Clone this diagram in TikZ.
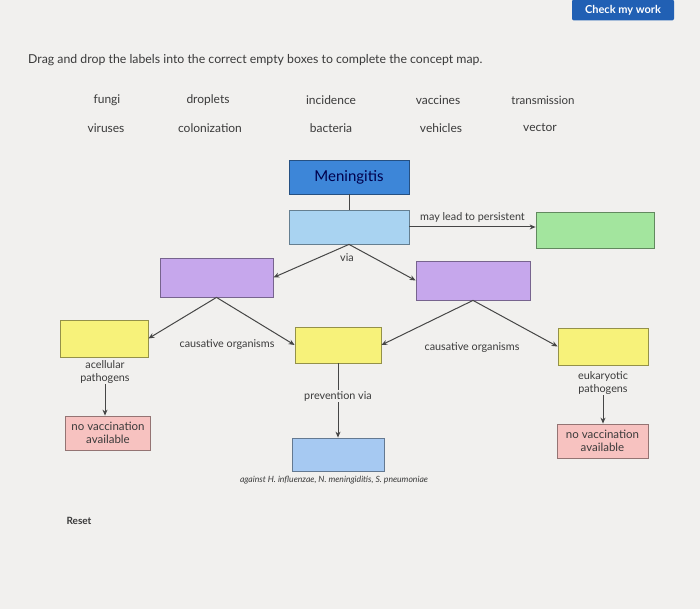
\documentclass[tikz,border=0pt]{standalone}
\usepackage{fontspec}
\setmainfont{Lato}
\usetikzlibrary{arrows.meta}
\definecolor{bg}{HTML}{F1F0EE}
\definecolor{btn}{HTML}{2160B4}
\definecolor{darkblue}{HTML}{3D86D8}
\definecolor{lightblue}{HTML}{A9D3F1}
\definecolor{paleblue}{HTML}{A6C9F2}
\definecolor{lgreen}{HTML}{A3E59E}
\definecolor{lpurple}{HTML}{C6A7EC}
\definecolor{lyellow}{HTML}{F7F27A}
\definecolor{lpink}{HTML}{F7C2C0}
\definecolor{txt}{HTML}{3A3A3A}
\definecolor{edge}{HTML}{464646}
\tikzset{
  cbox/.style={draw=#1!60!black, line width=0.8pt, inner sep=0pt},
  word/.style={text=txt, font=\fontsize{12}{14}\selectfont, inner sep=1pt},
  small/.style={text=txt, font=\fontsize{10.8}{12.5}\selectfont, inner sep=1pt, align=center},
  conn/.style={draw=edge, line width=1pt},
  arr/.style={conn, -{Stealth[length=6pt,width=5pt]}},
}
\begin{document}
\begin{tikzpicture}[x=1pt,y=-1pt]
\fill[bg] (0,0) rectangle (700,609);
\useasboundingbox (0,0) rectangle (700,609);
% button
\node[fill=btn, rounded corners=2pt, minimum width=102pt, minimum height=21pt, inner sep=0pt,
      text=white, font=\fontsize{11}{13}\selectfont\bfseries] (check) at (623,10) {Check my work};
% instruction
\node[anchor=west, text=txt, font=\fontsize{12.3}{14}\selectfont, inner sep=0pt] (instr) at (28,60)
  {Drag and drop the labels into the correct empty boxes to complete the concept map.};
% word bank
\node[word] (w1) at (107,100) {fungi};
\node[word] (w2) at (208,100) {droplets};
\node[word] (w3) at (331,100) {incidence};
\node[word] (w4) at (438,100) {vaccines};
\node[word, font=\fontsize{11.5}{13}\selectfont] (w5) at (543,100) {transmission};
\node[word] (w6) at (106,128) {viruses};
\node[word] (w7) at (210,128) {colonization};
\node[word] (w8) at (331,128) {bacteria};
\node[word] (w9) at (441,128) {vehicles};
\node[word] (w10) at (540,128) {vector};
% boxes
\node[cbox=darkblue, fill=darkblue, minimum width=120pt, minimum height=34pt,
      text=black!70!blue, font=\fontsize{15}{17}\selectfont] (men) at (349,177) {Meningitis};
\node[cbox=lightblue, fill=lightblue, minimum width=120pt, minimum height=34pt] (lb) at (349,227) {};
\node[cbox=lgreen, fill=lgreen, minimum width=118pt, minimum height=36pt] (grn) at (595,230) {};
\node[cbox=lpurple, fill=lpurple, minimum width=113pt, minimum height=39pt] (pl) at (216.5,277.5) {};
\node[cbox=lpurple, fill=lpurple, minimum width=114pt, minimum height=39pt] (pr) at (473,280.5) {};
\node[cbox=lyellow, fill=lyellow, minimum width=88pt, minimum height=37pt] (yl) at (104,338.5) {};
\node[cbox=lyellow, fill=lyellow, minimum width=86pt, minimum height=36pt] (ym) at (338,345) {};
\node[cbox=lyellow, fill=lyellow, minimum width=90pt, minimum height=37pt] (yr) at (603,346.5) {};
\node[cbox=paleblue, fill=paleblue, minimum width=92pt, minimum height=33pt] (bb) at (338,454.5) {};
\node[cbox=lpink, fill=lpink, minimum width=85pt, minimum height=34pt, small, text=txt,
      font=\fontsize{11.5}{13}\selectfont] (nvl) at (108,433) {no vaccination\\available};
\node[cbox=lpink, fill=lpink, minimum width=91pt, minimum height=34pt, small, text=txt,
      font=\fontsize{11.5}{13}\selectfont] (nvr) at (602.5,441) {no vaccination\\available};
% labels
\node[small, align=center] (acl) at (105,372) {acellular\\pathogens};
\node[small, align=center] (euk) at (603,383) {eukaryotic\\pathogens};
\node[small] (prev) at (338,396) {prevention via};
\node[small] (via) at (347,258) {via};
\node[small] (co1) at (227,345) {causative organisms};
\node[small] (co2) at (472,348) {causative organisms};
\node[text=txt, font=\fontsize{8.6}{10}\selectfont\itshape, inner sep=0pt] (against) at (334,480)
  {against H. influenzae, N. meningiditis, S. pneumoniae};
\node[text=txt, font=\fontsize{10}{12}\selectfont\bfseries, inner sep=0pt] (reset) at (79,521) {Reset};
% connectors
\draw[conn] (men.south) -- (lb.north);
\draw[arr] (lb.east) -- node[small, above=3pt] (ml) {may lead to persistent} (lb.east -| grn.west);
\draw[arr] (lb.south) -- (pl.east);
\draw[arr] (lb.south) -- (pr.west);
\draw[arr] (pl.south) -- (yl.east);
\draw[arr] (pl.south) -- (ym.west);
\draw[arr] (pr.south) -- (ym.east);
\draw[arr] (pr.south) -- (yr.west);
\draw[arr] (acl.south) -- (acl.south |- nvl.north);
\draw[arr] (euk.south) -- (euk.south |- nvr.north);
\draw[conn] (ym.south) -- (ym.south |- prev.north);
\draw[arr] (prev.south) -- (prev.south |- bb.north);
\end{tikzpicture}
\end{document}
